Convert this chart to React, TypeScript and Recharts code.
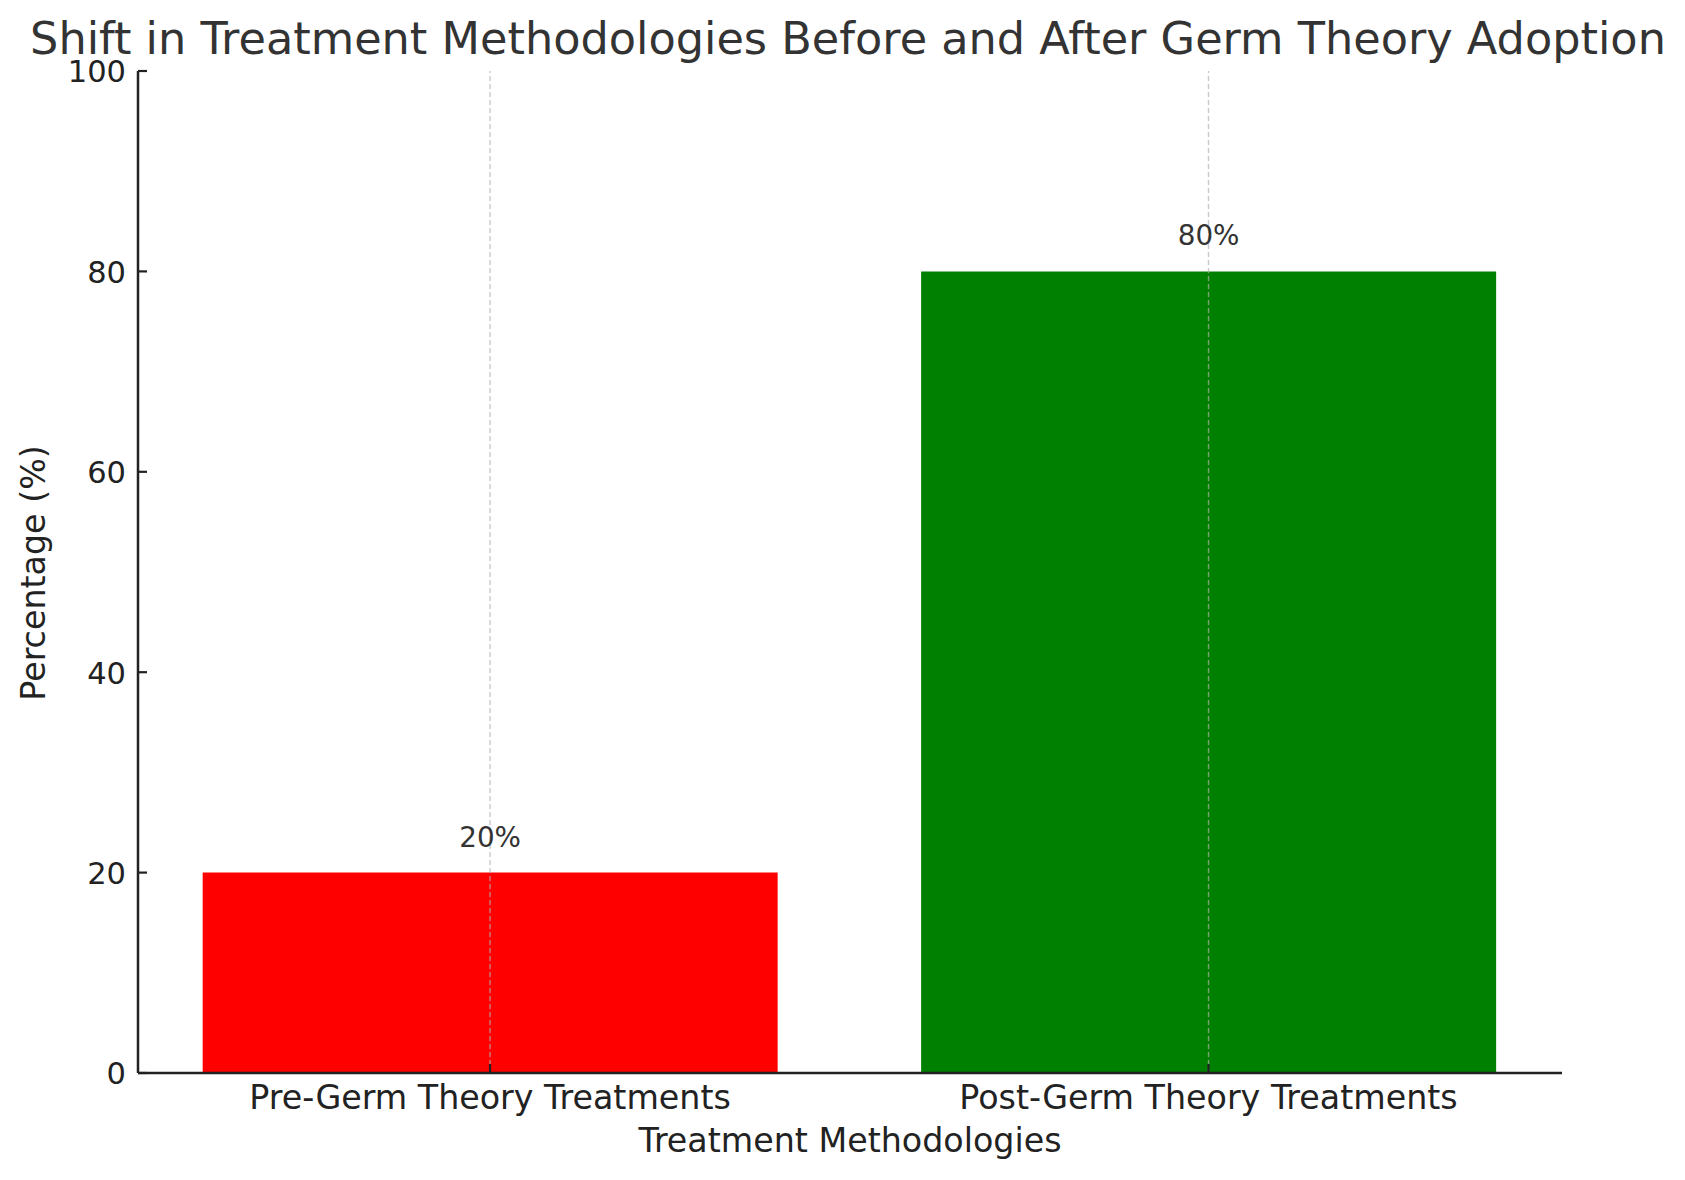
import React from "react";
import { BarChart, Bar, XAxis, YAxis, Cell, LabelList, ReferenceLine } from "recharts";

const categories = ["Pre-Germ Theory Treatments", "Post-Germ Theory Treatments"];
const percentages = [20, 80];
const barColors = ["#ff0000", "#008000"];
const xPositions = [0, 1];
const yTicks = [0, 20, 40, 60, 80, 100];

const data = categories.map((name, i) => ({
  x: xPositions[i],
  name,
  value: percentages[i],
  color: barColors[i],
}));

const FONT = "DejaVu Sans";
const AXIS_COLOR = "#222";

const YTick = (props: any) => {
  const { x, y, payload } = props;
  return (
    <g>
      <line x1={x} y1={y} x2={x + 9} y2={y} stroke={AXIS_COLOR} strokeWidth={2.2} />
      <text x={x - 12} y={y + 11.3} textAnchor="end" fontFamily={FONT} fontSize={30.5} fill={AXIS_COLOR}>
        {payload.value}
      </text>
    </g>
  );
};

const XTick = (props: any) => {
  const { x, y, payload } = props;
  const idx = xPositions.indexOf(payload.value);
  return (
    <g>
      <line x1={x} y1={y} x2={x} y2={y - 9} stroke={AXIS_COLOR} strokeWidth={2.2} />
      <text x={x} y={y + 36} textAnchor="middle" fontFamily={FONT} fontSize={33.3} fill={AXIS_COLOR}>
        {idx >= 0 ? categories[idx] : ""}
      </text>
    </g>
  );
};

const ValueLabel = (props: any) => {
  const { x, y, width, value } = props;
  return (
    <text x={x + width / 2} y={y - 26} textAnchor="middle" fontFamily={FONT} fontSize={27.8} fill="#333">
      {`${value}%`}
    </text>
  );
};

const XLabel = (props: any) => {
  const { viewBox } = props;
  const cx = viewBox.x + viewBox.width / 2;
  return (
    <text x={cx} y={1152} textAnchor="middle" fontFamily={FONT} fontSize={33.3} fill={AXIS_COLOR}>
      Treatment Methodologies
    </text>
  );
};

const YLabel = () => (
  <text
    x={45}
    y={573}
    transform="rotate(-90, 45, 573)"
    textAnchor="middle"
    fontFamily={FONT}
    fontSize={33.3}
    fill={AXIS_COLOR}
  >
    Percentage (%)
  </text>
);

export default function App() {
  return (
    <div style={{ position: "relative", width: 1685, height: 1180, background: "#fff" }}>
      <style>{`body{margin:0;background:#fff;}`}</style>
      <svg
        width={1685}
        height={70}
        style={{ position: "absolute", left: 0, top: 0, zIndex: 2, pointerEvents: "none", overflow: "visible" }}
      >
        <text x={848} y={54} textAnchor="middle" fontFamily={FONT} fontSize={44.6} fill="#333">
          Shift in Treatment Methodologies Before and After Germ Theory Adoption
        </text>
      </svg>
      <BarChart
        width={1685}
        height={1180}
        data={data}
        margin={{ top: 71, right: 123, bottom: 0, left: 0 }}
        barCategoryGap="10%"
      >
        <XAxis
          dataKey="x"
          type="number"
          domain={[-0.49, 1.492]}
          ticks={xPositions}
          allowDataOverflow
          height={107}
          tickSize={0}
          tickMargin={0}
          tick={<XTick />}
          axisLine={{ stroke: AXIS_COLOR, strokeWidth: 2.5 }}
          label={<XLabel />}
        />
        <YAxis
          type="number"
          domain={[0, 100]}
          ticks={yTicks}
          width={138}
          tickSize={0}
          tickMargin={0}
          tick={<YTick />}
          axisLine={{ stroke: AXIS_COLOR, strokeWidth: 2.5 }}
          label={<YLabel />}
        />
        <Bar dataKey="value" isAnimationActive={false}>
          {data.map((d, i) => (
            <Cell key={i} fill={d.color} />
          ))}
          <LabelList dataKey="value" content={<ValueLabel />} />
        </Bar>
        {xPositions.map((xp) => (
          <ReferenceLine
            key={xp}
            x={xp}
            stroke="#b0b0b0"
            strokeOpacity={0.7}
            strokeWidth={1.4}
            strokeDasharray="5 3"
          />
        ))}
      </BarChart>
    </div>
  );
}
